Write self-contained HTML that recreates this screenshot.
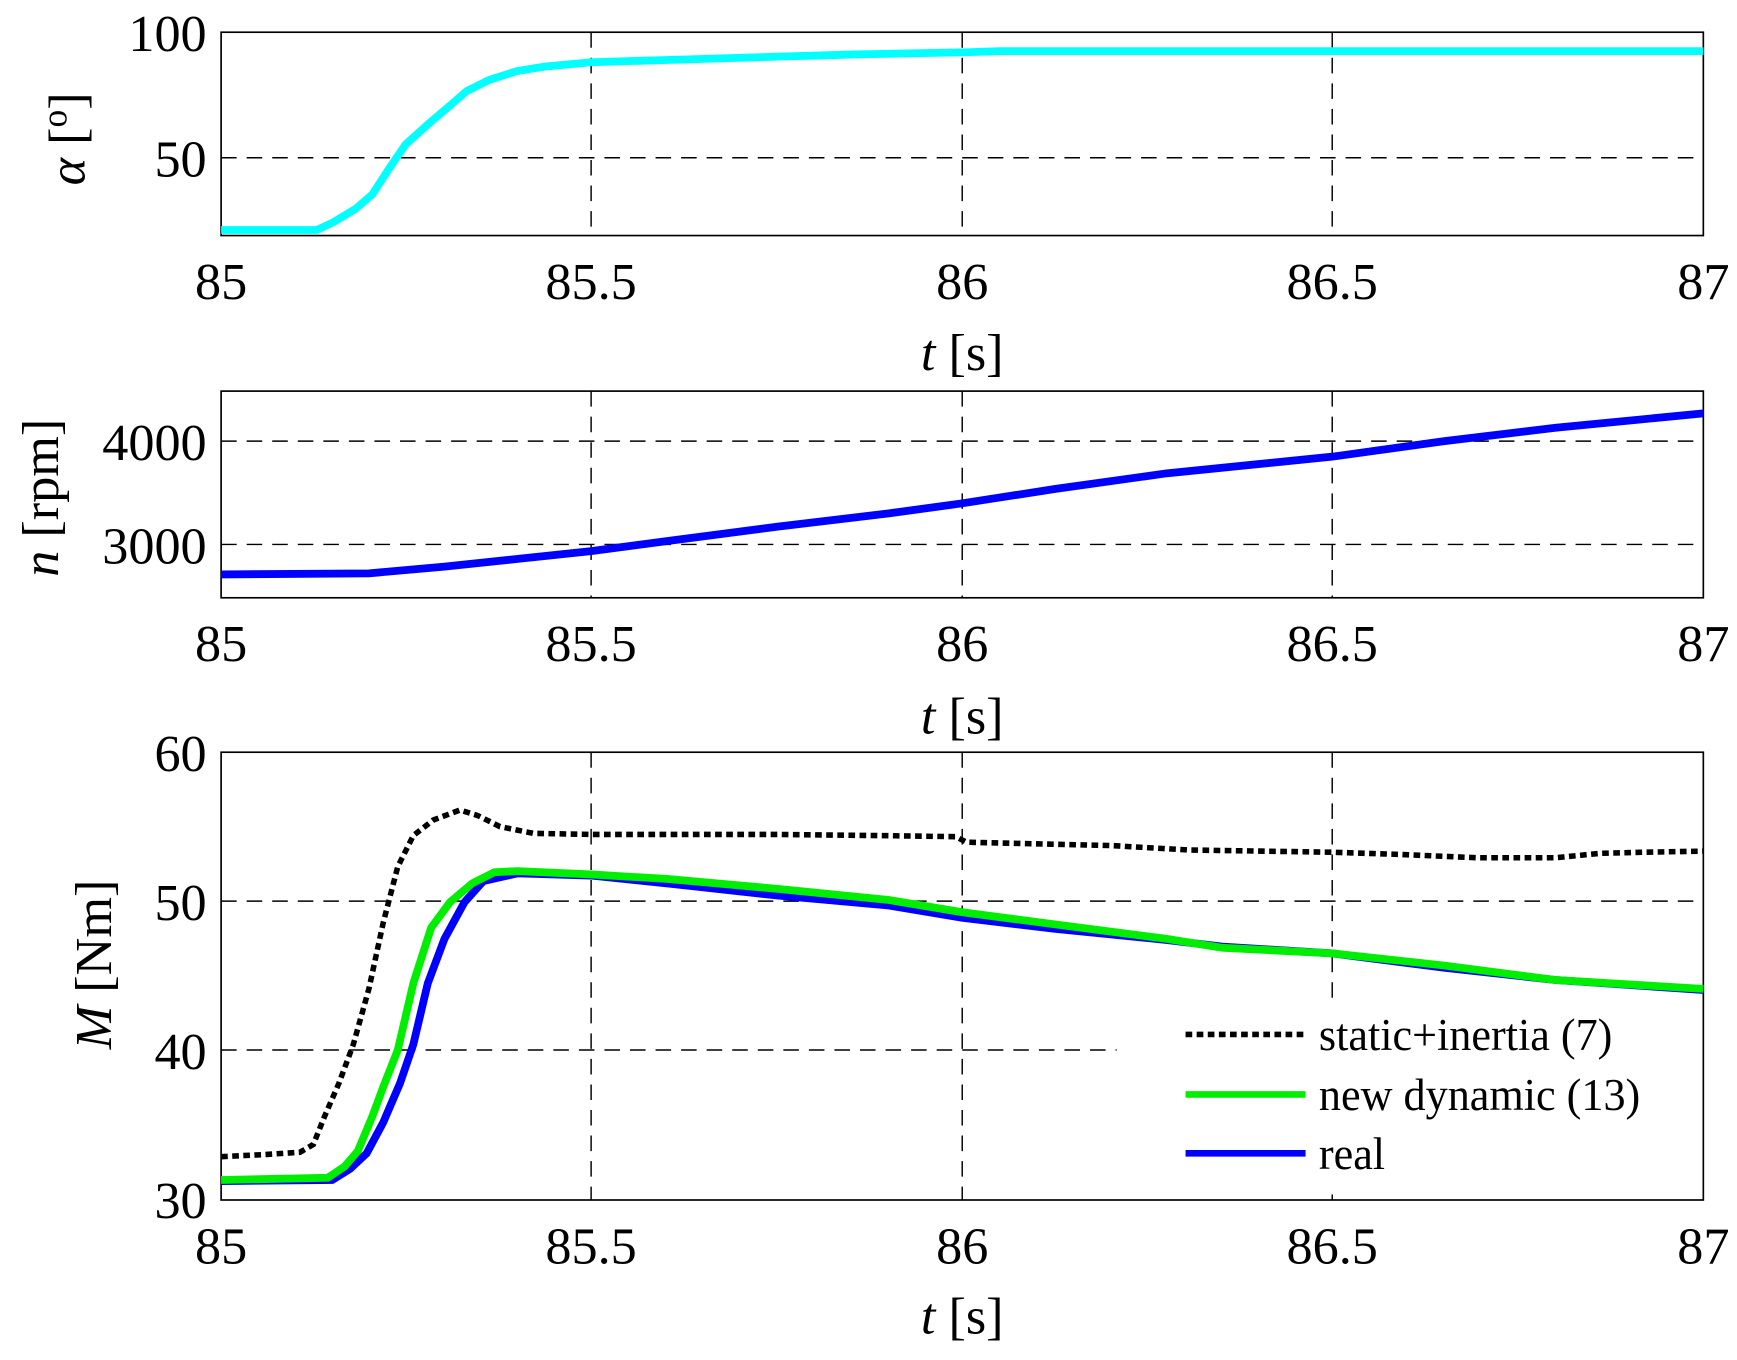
<!DOCTYPE html>
<html><head><style>html,body{margin:0;padding:0;background:#fff}svg{display:block}</style></head><body>
<svg width="1737" height="1360" viewBox="0 0 1563.3 1224" preserveAspectRatio="none" xmlns="http://www.w3.org/2000/svg" font-family="Liberation Serif, serif" font-size="47">
<rect width="1563.3" height="1224" fill="#fff"/>
<g stroke="#000" stroke-width="1.3" stroke-dasharray="14,9" fill="none">
<path d="M532 29V212M866 29V212M1199 29V212M199 142H1533"/>
<path d="M532 352V538M866 352V538M1199 352V538M199 397H1533M199 490H1533"/>
<path d="M532 677V1080M866 677V1080M1199 677V1080M199 811H1533M199 945H1533"/>
</g>
<g fill="none" stroke="#000" stroke-width="1.5">
<rect x="199" y="29" width="1334" height="183"/>
<rect x="199" y="352" width="1334" height="186"/>
<rect x="199" y="677" width="1334" height="403"/>
</g>
<polyline fill="none" stroke="#00ffff" stroke-width="7" points="199,207 285,207 300,200 320,188 335,175 350,152 365,130 385,112 405,95 420,82 440,72 465,64 490,60 532,56 600,54 700,51 770,49 870,47 900,46 1533,46"/>
<polyline fill="none" stroke="#0000ff" stroke-width="7" points="199,517 332,516 400,510 466,503 532,496 600,487 700,474 800,462 866,453 950,440 1050,426 1199,411 1300,397 1400,385 1533,372"/>
<polyline fill="none" stroke="#000" stroke-width="5" stroke-dasharray="6,4" points="199,1041 240,1039 270,1037 282,1030 292,1005 305,975 318,940 332,890 345,830 358,780 372,752 390,738 414,729 430,734 450,744 480,750 532,751 700,751 790,752 860,753 870,758 1000,761 1070,765 1199,767 1260,769 1330,772 1400,772 1440,768 1480,767 1533,766"/>
<polyline fill="none" stroke="#0000ff" stroke-width="7" points="199,1063 299,1062 315,1052 330,1038 345,1010 360,975 372,940 385,885 400,845 418,812 435,793 466,786 532,788 600,795 700,806 800,815 866,826 950,836 1050,846 1100,852 1199,858 1300,871 1400,882 1533,891"/>
<polyline fill="none" stroke="#00ee00" stroke-width="7" points="199,1062 295,1060 310,1050 322,1036 335,1005 345,978 358,945 372,885 388,835 405,812 425,795 445,785 466,784 532,787 600,791 700,800 800,810 866,821 950,832 1050,845 1100,853 1199,858 1300,869 1400,882 1533,890"/>
<rect x="1005" y="900" width="527" height="175" fill="#fff"/>
<line x1="1067" y1="931" x2="1175" y2="931" stroke="#000" stroke-width="5" stroke-dasharray="6,4"/>
<line x1="1067" y1="985" x2="1175" y2="985" stroke="#00ee00" stroke-width="6"/>
<line x1="1067" y1="1038" x2="1175" y2="1038" stroke="#0000ff" stroke-width="6"/>
<g font-size="41" transform="translate(1187,0) scale(0.97,1)">
<text x="0" y="945">static+inertia (7)</text>
<text x="0" y="999">new dynamic (13)</text>
<text x="0" y="1052">real</text>
</g>
<g text-anchor="middle">
<g>
<text x="199" y="269">85</text><text x="532" y="269">85.5</text><text x="866" y="269">86</text><text x="1199" y="269">86.5</text><text x="1533" y="269">87</text>
<text x="866" y="333"><tspan font-style="italic">t</tspan> [s]</text>
</g>
<g>
<text x="199" y="595">85</text><text x="532" y="595">85.5</text><text x="866" y="595">86</text><text x="1199" y="595">86.5</text><text x="1533" y="595">87</text>
<text x="866" y="660"><tspan font-style="italic">t</tspan> [s]</text>
</g>
<g>
<text x="199" y="1137">85</text><text x="532" y="1137">85.5</text><text x="866" y="1137">86</text><text x="1199" y="1137">86.5</text><text x="1533" y="1137">87</text>
<text x="866" y="1200"><tspan font-style="italic">t</tspan> [s]</text>
</g>
</g>
<g text-anchor="end">
<text x="186" y="46">100</text><text x="186" y="159">50</text>
<text x="186" y="414">4000</text><text x="186" y="507">3000</text>
<text x="186" y="694">60</text><text x="186" y="828">50</text><text x="186" y="962">40</text><text x="186" y="1096">30</text>
</g>
<g text-anchor="middle">
<text transform="translate(76,125) rotate(-90)"><tspan font-style="italic">α</tspan> [<tspan font-size="32" dy="-16">o</tspan><tspan dy="16">]</tspan></text>
<text transform="translate(52,448) rotate(-90)"><tspan font-style="italic">n</tspan> [rpm]</text>
<text transform="translate(100,868) rotate(-90)"><tspan font-style="italic">M</tspan>  [Nm]</text>
</g>
</svg>
</body></html>
